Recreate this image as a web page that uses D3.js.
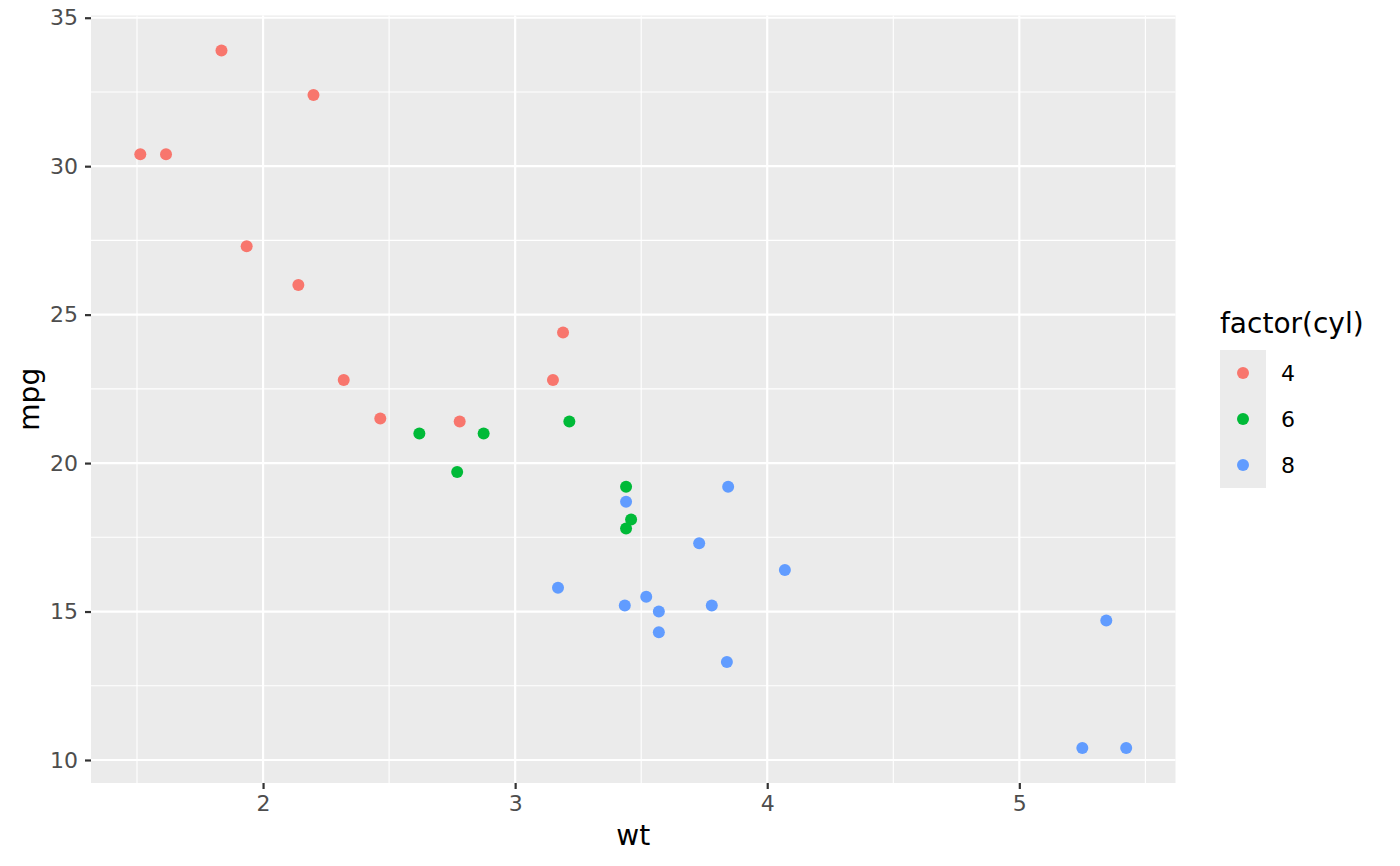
<!DOCTYPE html>
<html lang="en">
<head>
<meta charset="utf-8">
<title>mtcars wt vs mpg</title>
<script src="https://cdnjs.cloudflare.com/ajax/libs/d3/7.8.5/d3.min.js"></script>
<style>
  body { margin: 0; background: #fff; }
  svg { font-family: "DejaVu Sans", sans-serif; }
  .tick-label { fill: #4D4D4D; font-size: 22px; }
  .axis-title { fill: #000; font-size: 28px; }
  .legend-label { fill: #000; font-size: 22px; }
</style>
</head>
<body>
<div id="chart"></div>
<script>
// mtcars: weight (1000 lbs), miles per gallon, cylinders
const wt  = [2.620, 2.875, 2.320, 3.215, 3.440, 3.460, 3.570, 3.190, 3.150, 3.440,
             3.440, 4.070, 3.730, 3.780, 5.250, 5.424, 5.345, 2.200, 1.615, 1.835,
             2.465, 3.520, 3.435, 3.840, 3.845, 1.935, 2.140, 1.513, 3.170, 2.770,
             3.570, 2.780];
const mpg = [21.0, 21.0, 22.8, 21.4, 18.7, 18.1, 14.3, 24.4, 22.8, 19.2,
             17.8, 16.4, 17.3, 15.2, 10.4, 10.4, 14.7, 32.4, 30.4, 33.9,
             21.5, 15.5, 15.2, 13.3, 19.2, 27.3, 26.0, 30.4, 15.8, 19.7,
             15.0, 21.4];
const cyl = [6, 6, 4, 6, 8, 6, 8, 4, 4, 6,
             6, 8, 8, 8, 8, 8, 8, 4, 4, 4,
             4, 8, 8, 8, 8, 4, 4, 4, 8, 6,
             8, 4];
const cylLevels = ["4", "6", "8"];
const cylColors = ["#F8766D", "#00BA38", "#619CFF"];
const xTicks = [2, 3, 4, 5];
const xMinor = [1.5, 2.5, 3.5, 4.5, 5.5];
const yTicks = [10, 15, 20, 25, 30, 35];
const yMinor = [12.5, 17.5, 22.5, 27.5, 32.5];

const W = 1400, H = 866;
const panel = { left: 91, right: 1175.5, top: 15.5, bottom: 783 };

const data = wt.map((w, i) => ({ wt: w, mpg: mpg[i], cyl: String(cyl[i]) }));

// ggplot-style 5% expansion
function expand(ext) {
  const pad = (ext[1] - ext[0]) * 0.05;
  return [ext[0] - pad, ext[1] + pad];
}

const x = d3.scaleLinear()
  .domain(expand(d3.extent(wt)))
  .range([panel.left, panel.right]);
const y = d3.scaleLinear()
  .domain(expand(d3.extent(mpg)))
  .range([panel.bottom, panel.top]);
const color = d3.scaleOrdinal().domain(cylLevels).range(cylColors);

const svg = d3.select("#chart").append("svg")
  .attr("width", W).attr("height", H);

// panel background
svg.append("rect")
  .attr("x", panel.left).attr("y", panel.top)
  .attr("width", panel.right - panel.left)
  .attr("height", panel.bottom - panel.top)
  .attr("fill", "#EBEBEB");

const grid = svg.append("g");
// minor grid
grid.selectAll(".xminor").data(xMinor).enter().append("line")
  .attr("x1", d => x(d)).attr("x2", d => x(d))
  .attr("y1", panel.top).attr("y2", panel.bottom)
  .attr("stroke", "#fff").attr("stroke-width", 1.1);
grid.selectAll(".yminor").data(yMinor).enter().append("line")
  .attr("y1", d => y(d)).attr("y2", d => y(d))
  .attr("x1", panel.left).attr("x2", panel.right)
  .attr("stroke", "#fff").attr("stroke-width", 1.1);
// major grid
grid.selectAll(".xmajor").data(xTicks).enter().append("line")
  .attr("x1", d => x(d)).attr("x2", d => x(d))
  .attr("y1", panel.top).attr("y2", panel.bottom)
  .attr("stroke", "#fff").attr("stroke-width", 2.2);
grid.selectAll(".ymajor").data(yTicks).enter().append("line")
  .attr("y1", d => y(d)).attr("y2", d => y(d))
  .attr("x1", panel.left).attr("x2", panel.right)
  .attr("stroke", "#fff").attr("stroke-width", 2.2);

// axes
const xAxis = d3.axisBottom(x).tickValues(xTicks).tickSize(6).tickPadding(6).tickFormat(d3.format("d"));
const yAxis = d3.axisLeft(y).tickValues(yTicks).tickSize(6).tickPadding(7).tickFormat(d3.format("d"));

const gx = svg.append("g")
  .attr("transform", `translate(0,${panel.bottom})`)
  .call(xAxis);
const gy = svg.append("g")
  .attr("transform", `translate(${panel.left},0)`)
  .call(yAxis);
[gx, gy].forEach(g => {
  g.select(".domain").remove();
  g.selectAll(".tick line").attr("stroke", "#333").attr("stroke-width", 2.2);
  g.selectAll(".tick text").attr("class", "tick-label").attr("fill", null);
  g.attr("font-family", null).attr("font-size", null);
});

// points
svg.append("g").selectAll("circle")
  .data(data).enter().append("circle")
  .attr("cx", d => x(d.wt))
  .attr("cy", d => y(d.mpg))
  .attr("r", 6)
  .attr("fill", d => color(d.cyl));

// axis titles
svg.append("text").attr("class", "axis-title")
  .attr("x", (panel.left + panel.right) / 2).attr("y", 845)
  .attr("text-anchor", "middle").text("wt");
svg.append("text").attr("class", "axis-title")
  .attr("transform", `translate(39,${(panel.top + panel.bottom) / 2}) rotate(-90)`)
  .attr("text-anchor", "middle").text("mpg");

// legend
const lg = svg.append("g").attr("transform", "translate(1220,350)");
lg.append("text").attr("class", "axis-title")
  .attr("x", 0).attr("y", -17).text("factor(cyl)");
lg.append("rect")
  .attr("x", 0).attr("y", 0)
  .attr("width", 46).attr("height", 46 * cylLevels.length)
  .attr("fill", "#EBEBEB");
const key = lg.selectAll(".key").data(cylLevels).enter().append("g")
  .attr("transform", (d, i) => `translate(0,${i * 46})`);
key.append("circle")
  .attr("cx", 23).attr("cy", 23).attr("r", 6)
  .attr("fill", d => color(d));
key.append("text").attr("class", "legend-label")
  .attr("x", 61).attr("y", 23).attr("dy", "0.36em")
  .text(d => d);
</script>
</body>
</html>
